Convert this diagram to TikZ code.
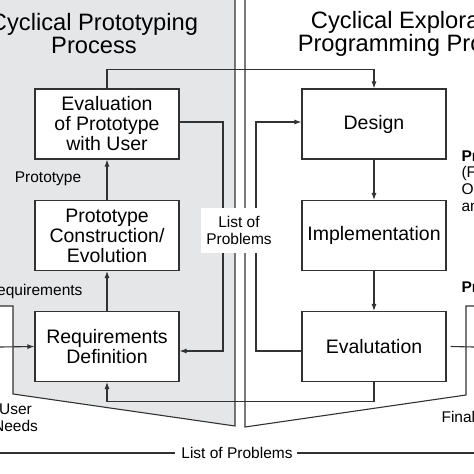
\documentclass[tikz,border=0pt]{standalone}
\usepackage{fontspec}
\setmainfont{Liberation Sans}
\usetikzlibrary{arrows.meta}
\definecolor{panelgray}{RGB}{228,230,232}
\definecolor{linegray}{RGB}{50,50,50}

\begin{document}
\begin{tikzpicture}[x=1pt,y=-1pt,color=linegray,line width=1.1pt,
	>={Latex[length=7pt,width=5pt]},
	box/.style={draw,fill=white,minimum width=144pt,minimum height=70pt,align=center,
		inner sep=0pt,text=black,font=\fontsize{19.5}{20}\selectfont},
	lbl/.style={inner sep=0pt,text=black,align=center,font=\fontsize{15.5}{17}\selectfont},
	ttl/.style={inner sep=0pt,text=black,align=center,font=\fontsize{23.7}{23}\selectfont}]
	\useasboundingbox (0,0) rectangle (474,474);
	% panels
	\fill[panelgray] (0,0) -- (235,0) -- (235,426) -- (13,394) -- (13,306) -- (0,306) -- cycle;
	\draw (0,306) -- (13,306) -- (13,394) -- (235,426) -- (235,0);
	\draw (474,306) -- (466,306) -- (466,395) -- (245,427) -- (245,0);
	\node[ttl] (ttlproto) at (94,34) {Cyclical Prototyping\\Process};
	\node[ttl] (ttlexpl) at (415,34) {Cyclical Exploratory\\Programming Process};
	% boxes
	\node[box] (evalproto) at (107,124) {Evaluation\\of Prototype\\with User};
	\node[box] (construct) at (107,235.5) {Prototype\\Construction/\\Evolution};
	\node[box] (reqdef) at (107,346.5) {Requirements\\Definition};
	\node[box] (design) at (374,124) {Design};
	\node[box] (implement) at (374,235.5) {Implementation};
	\node[box] (evalprog) at (374,346.5) {Evalutation};
	% connectors
	\coordinate (userin) at (0,347);
	\coordinate (prodout) at (474,347);
	\coordinate (lpleft) at (223,351);
	\coordinate (lpright) at (256,351);
	\draw[->] (userin) -- (reqdef.west);
	\draw[->] (reqdef) -- (construct);
	\draw[->] (construct) -- (evalproto);
	\draw[->] (evalproto.north) -- ++(0,-19) -| (design.north);
	\draw[->] ([yshift=2pt]evalproto.east) -| (lpleft) -- ([yshift=-4.5pt]reqdef.east);
	\draw[->] (design) -- (implement);
	\draw[->] (implement) -- (evalprog);
	\draw[->] ([yshift=-4.5pt]evalprog.west) -- (lpright) |- ([yshift=2pt]design.west);
	\draw[->] (evalprog.south) -- ++(0,19) -| (reqdef.south);
	\draw ([xshift=4pt]evalprog.east) -- (prodout);
	% labels
	\node[lbl,fill=white,minimum width=76pt,minimum height=45pt] (problems) at (239,230.5) {List of\\Problems};
	\node[lbl] (protolbl) at (48,179) {Prototype};
	\node[lbl,anchor=east] (reqlbl) at (83,291) {Requirements};
	\node[lbl] (userlbl) at (15.5,417.5) {User\\Needs};
	\node[lbl,anchor=west] (finallbl) at (441,417) {Final};
	\node[lbl,anchor=north west,align=left,font=\fontsize{15.5}{16.7}\selectfont] (prodlbl) at (461,150) {\textbf{Pr}\\(F\\O\\an};
	\node[lbl,anchor=west] (prodlbl2) at (461,287) {\textbf{Pr}};
	\node[lbl] (problems2) at (237,453) {List of Problems};
	\draw (0,453) -- ([xshift=-6pt]problems2.west);
	\draw ([xshift=4pt]problems2.east) -- (474,453);
\end{tikzpicture}
\end{document}
